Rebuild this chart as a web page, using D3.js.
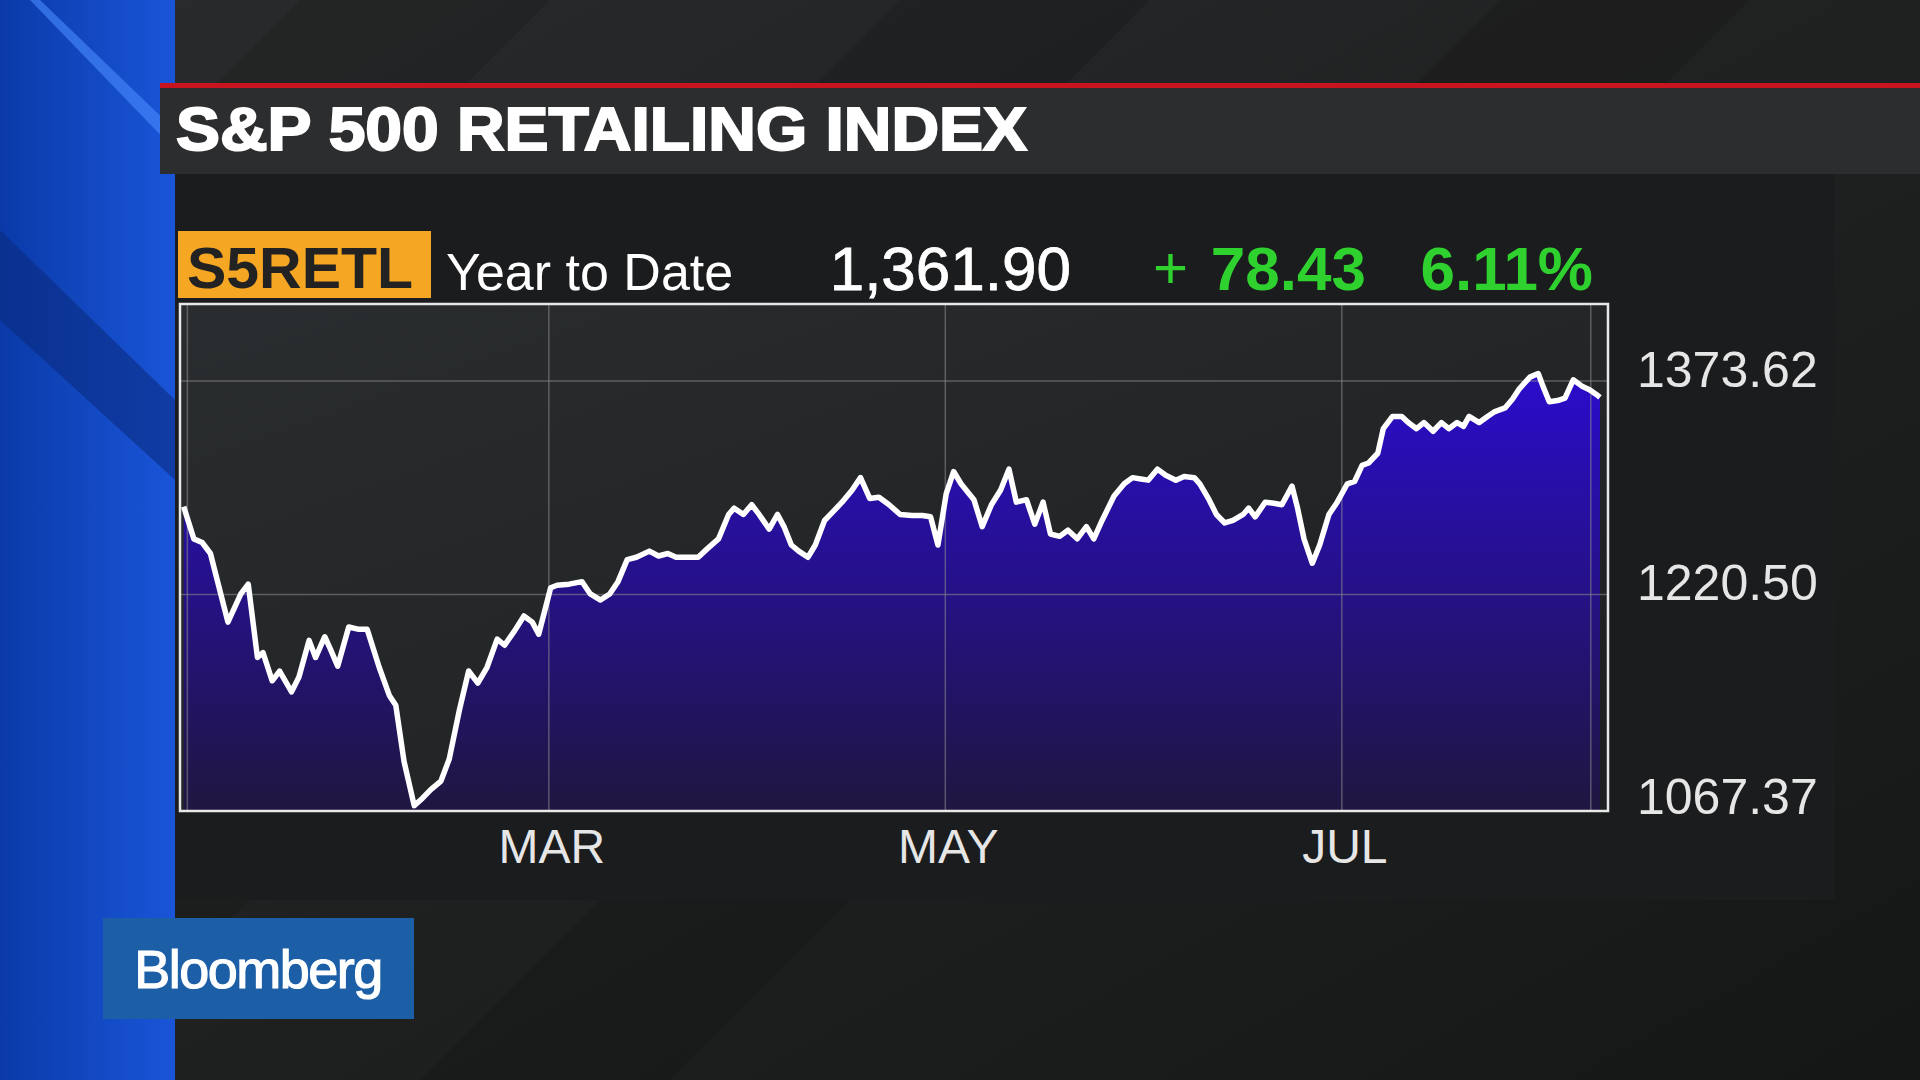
<!DOCTYPE html>
<html><head><meta charset="utf-8">
<script src="https://cdn.jsdelivr.net/npm/d3@7"></script>
<style>html,body{margin:0;padding:0;background:#1c1d1e;overflow:hidden}</style>
</head><body>
<svg id="c" width="1920" height="1080"></svg>
<script>
const title = "S&P 500 RETAILING INDEX";
const ticker = "S5RETL";
const period = "Year to Date";
const lastValue = "1,361.90";
const changeSign = "+";
const change = "78.43";
const changePct = "6.11%";
const yTicks = [1067.37, 1220.50, 1373.62];
const monthSessions = [0.8, 40, 83, 126, 153];
const monthLabels = ["", "MAR", "MAY", "JUL", ""];
const sessions = [0.4,1.5,2.4,3.3,5.2,6.6,7.4,8.4,9.0,10.0,10.8,12.1,12.9,14.0,14.7,15.7,16.3,17.1,18.3,19.4,20.3,21.6,22.7,23.4,24.3,25.4,26.3,27.2,28.3,29.2,30.3,31.3,32.3,33.3,34.4,35.2,36.3,37.3,38.2,38.9,40.2,40.9,42.2,43.6,44.5,45.6,46.6,47.5,48.5,49.5,50.9,51.9,52.9,53.8,54.8,56.2,57.2,58.4,59.5,60.1,61.1,62.0,62.8,63.9,64.8,65.5,66.3,67.1,68.1,68.9,69.9,70.8,71.8,72.9,73.8,74.8,75.8,76.9,78.1,79.4,80.5,81.4,82.2,83.1,83.9,84.7,86.1,87.0,88.0,89.0,89.9,90.7,91.8,92.7,93.6,94.4,95.4,96.3,97.3,98.3,99.1,100.0,101.3,102.4,103.3,104.2,105.0,106.0,106.9,108.0,108.9,110.0,110.6,111.6,112.4,113.3,114.2,115.3,115.9,116.6,117.7,118.6,119.5,120.6,121.2,121.9,122.8,123.6,124.6,125.5,126.6,127.4,128.2,128.9,129.9,130.5,131.5,132.5,133.2,134.1,134.9,135.9,136.8,137.6,138.5,139.2,139.8,140.9,141.8,142.6,143.7,144.5,145.2,146.4,147.3,147.8,148.5,149.4,150.2,151.1,152.0,152.8,153.6,154.0];
const values = [1283.5,1260.4,1257.8,1249.9,1200.7,1220.9,1227.9,1175.3,1178.8,1158.6,1165.6,1150.7,1161.3,1187.6,1175.3,1190.2,1181.5,1169.1,1197.2,1195.5,1195.5,1168.3,1148.1,1141.1,1100.7,1069.1,1074.4,1080.5,1086.7,1102.5,1137.6,1165.6,1156.9,1168.3,1188.5,1184.1,1194.6,1205.1,1200.7,1192.0,1225.3,1227.1,1227.9,1229.7,1220.9,1216.5,1220.9,1229.7,1245.5,1247.2,1251.6,1248.1,1249.9,1247.2,1247.2,1247.2,1253.4,1260.4,1277.9,1282.4,1277.9,1284.9,1277.9,1267.4,1277.9,1269.2,1256.0,1251.6,1247.2,1256.0,1273.6,1279.7,1286.7,1295.5,1304.3,1289.4,1290.3,1284.9,1277.9,1277.1,1277.1,1276.2,1256.0,1292.9,1308.7,1299.9,1288.5,1269.2,1284.9,1295.5,1310.4,1286.7,1288.5,1270.9,1286.7,1263.9,1262.2,1266.6,1260.4,1269.2,1260.4,1273.6,1291.1,1299.9,1304.3,1303.4,1302.5,1310.4,1306.0,1302.5,1305.2,1304.3,1299.9,1288.5,1277.9,1271.8,1273.6,1277.9,1282.4,1276.2,1286.7,1285.9,1284.9,1298.2,1282.4,1260.4,1242.9,1256.0,1277.9,1286.7,1299.9,1301.7,1313.1,1314.8,1321.8,1339.4,1348.2,1348.2,1343.8,1339.4,1343.8,1337.6,1343.8,1339.4,1343.8,1341.1,1348.2,1343.8,1348.2,1351.7,1354.3,1360.5,1367.6,1376.4,1379.0,1370.1,1358.7,1359.6,1361.3,1374.5,1370.1,1367.6,1364.0,1361.9];
const data = sessions.map((s,i)=>({s, v: values[i]}));

const svg = d3.select("#c");
const defs = svg.append("defs");
const bgG = defs.append("linearGradient").attr("id","bg").attr("x1",0).attr("y1",0).attr("x2",1).attr("y2",1);
bgG.append("stop").attr("offset","0").attr("stop-color","#2a2b2c");
bgG.append("stop").attr("offset","1").attr("stop-color","#151616");
const blue = defs.append("linearGradient").attr("id","blue").attr("x1",0).attr("y1",0).attr("x2",1).attr("y2",0);
blue.append("stop").attr("offset","0").attr("stop-color","#0a3aa8");
blue.append("stop").attr("offset","1").attr("stop-color","#1a55d8");
const areaG = defs.append("linearGradient").attr("id","areaG").attr("x1",0).attr("y1",0).attr("x2",0).attr("y2",1);
areaG.append("stop").attr("offset","0").attr("stop-color","#2b0ccc");
areaG.append("stop").attr("offset","1").attr("stop-color","#201640");
const plotG = defs.append("linearGradient").attr("id","plotG").attr("x1",0).attr("y1",0).attr("x2",1).attr("y2",1);
plotG.append("stop").attr("offset","0").attr("stop-color","#2a2d2f");
plotG.append("stop").attr("offset","1").attr("stop-color","#1d1f20");

const F = "Liberation Sans, Arial, sans-serif";
svg.append("rect").attr("width",1920).attr("height",1080).attr("fill","url(#bg)");
[300,900,1500].forEach(x0=>{
  svg.append("path").attr("d",`M${x0},0 L${x0+250},0 L${x0-830},1080 L${x0-1080},1080Z`).attr("fill","#000").attr("opacity",0.12);
});
svg.append("rect").attr("x",0).attr("y",0).attr("width",175).attr("height",1080).attr("fill","url(#blue)");
svg.append("path").attr("d","M0,230 L175,400 L175,480 L0,320Z").attr("fill","#0a2c80").attr("opacity",0.6);
svg.append("path").attr("d","M40,0 L175,130 L175,150 L30,0Z").attr("fill","#4a8cff").attr("opacity",0.6);

svg.append("rect").attr("x",175).attr("y",174).attr("width",1660).attr("height",726).attr("fill","#1b1c1d");
svg.append("rect").attr("x",160).attr("y",83).attr("width",1760).attr("height",5).attr("fill","#c8141e");
svg.append("rect").attr("x",160).attr("y",88).attr("width",1760).attr("height",86).attr("fill","#2b2d2f");
svg.append("text").attr("x",176).attr("y",150).text(title)
  .attr("fill","#fff").attr("font-family",F).attr("font-weight","bold").attr("font-size",62)
  .attr("stroke","#fff").attr("stroke-width",2).attr("textLength",851).attr("lengthAdjust","spacingAndGlyphs");

svg.append("rect").attr("x",178).attr("y",231).attr("width",253).attr("height",67).attr("fill","#f5a623");
svg.append("text").attr("x",187).attr("y",288).text(ticker).attr("fill","#222").attr("font-family",F).attr("font-weight","bold").attr("font-size",58)
  .attr("textLength",226).attr("lengthAdjust","spacingAndGlyphs");
svg.append("text").attr("x",446).attr("y",290).text(period).attr("fill","#fff").attr("font-family",F).attr("font-size",52);
svg.append("text").attr("x",1071).attr("y",290).attr("text-anchor","end").text(lastValue).attr("fill","#fff").attr("font-family",F).attr("font-size",62).attr("stroke","#fff").attr("stroke-width",0.8);
svg.append("text").attr("x",1153).attr("y",288).text(changeSign).attr("fill","#2fd12f").attr("font-family",F).attr("font-size",60);
svg.append("text").attr("x",1366).attr("y",290).attr("text-anchor","end").text(change).attr("fill","#2fd12f").attr("font-family",F).attr("font-weight","bold").attr("font-size",62);
svg.append("text").attr("x",1593).attr("y",290).attr("text-anchor","end").text(changePct).attr("fill","#2fd12f").attr("font-family",F).attr("font-weight","bold").attr("font-size",62);

const L=180,R=1608,T=304,B=811;
const x = d3.scaleLinear().domain([0,154]).range([180,1600]);
const y = d3.scaleLinear().domain([1067.37,1373.62]).range([808,381]);
svg.append("rect").attr("x",L).attr("y",T).attr("width",R-L).attr("height",B-T).attr("fill","url(#plotG)");
const area = d3.area().x(d=>x(d.s)).y0(B).y1(d=>y(d.v));
const line = d3.line().x(d=>x(d.s)).y(d=>y(d.v));
svg.append("path").datum(data).attr("d",area).attr("fill","url(#areaG)");
const grid = svg.append("g").attr("stroke","#8a8c8e").attr("stroke-opacity",0.55).attr("stroke-width",1.5);
yTicks.slice(1).forEach(v=>grid.append("line").attr("x1",L).attr("x2",R).attr("y1",y(v)).attr("y2",y(v)));
monthSessions.forEach(s=>grid.append("line").attr("x1",x(s)).attr("x2",x(s)).attr("y1",T).attr("y2",B));
svg.append("path").datum(data).attr("d",line).attr("fill","none").attr("stroke","#fff").attr("stroke-width",5.5).attr("stroke-linejoin","round");
svg.append("rect").attr("x",L).attr("y",T).attr("width",R-L).attr("height",B-T).attr("fill","none").attr("stroke","#e8e8e8").attr("stroke-width",2.5);

yTicks.forEach(v=>svg.append("text").attr("x",1637).attr("y",y(v)-12).attr("dy","0.36em").text(v.toFixed(2))
  .attr("fill","#e6e6e6").attr("font-family",F).attr("font-size",50));
monthSessions.forEach((s,i)=>{ if(monthLabels[i]) svg.append("text").attr("x",x(s)+3).attr("y",863).attr("text-anchor","middle").text(monthLabels[i])
  .attr("fill","#e6e6e6").attr("font-family",F).attr("font-size",48);});

svg.append("rect").attr("x",103).attr("y",918).attr("width",311).attr("height",101).attr("fill","#1d5fa6");
svg.append("text").attr("x",258).attr("y",988).attr("text-anchor","middle").text("Bloomberg").attr("fill","#fff")
  .attr("font-family",F).attr("font-size",54).attr("stroke","#fff").attr("stroke-width",1.2).attr("letter-spacing",-1.5);
</script>
</body></html>
